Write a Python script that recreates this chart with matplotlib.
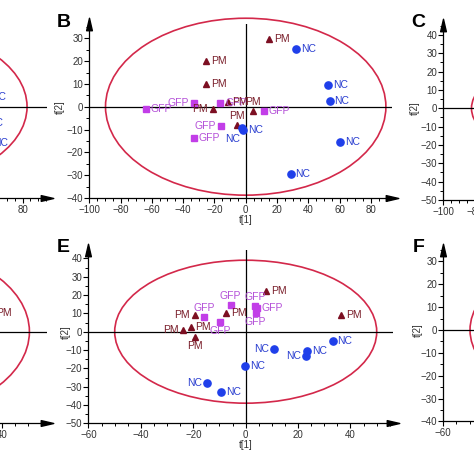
import numpy as np
import matplotlib.pyplot as plt
from matplotlib.patches import Ellipse
from matplotlib.path import Path

plt.rcParams['font.family'] = ['Liberation Sans', 'DejaVu Sans']

# scores (t[1], t[2]); A, C, D, F are only partly visible
a_nc_x = [56.7, 54.5, 58.3]
a_nc_y = [4.4, -7.3, -16.0]

b_nc_x = [32.2, 52.9, 53.7, 60.3, 28.8, -1.5, -2.6]
b_nc_y = [25.4, 9.4, 2.5, -15.5, -29.5, -10.2, -9.5]
b_pm_x = [14.9, -25.4, -25.4, -20.9, -11.5, 4.9, -5.8]
b_pm_y = [29.7, 20.2, 10.1, -1.0, 2.2, -1.9, -8.0]
b_gfp_x = [-64.0, -32.9, -16.2, 11.5, -15.8, -33.3]
b_gfp_y = [-0.9, 1.5, 1.6, -2.0, -8.3, -13.7]

d_pm_x = [35.9]
d_pm_y = [10.4]

e_nc_x = [33.2, 10.9, 23.4, 23.0, -0.3, -14.6, -9.5]
e_nc_y = [-5.3, -9.6, -10.5, -13.4, -18.7, -28.2, -32.7]
e_pm_x = [7.8, 36.4, -19.4, -7.4, -23.8, -21.0, -19.3]
e_pm_y = [22.2, 8.9, 9.3, 10.4, 0.9, 2.4, -2.7]
e_gfp_x = [-5.8, -16.0, -9.9, 3.5, 4.3, 3.8]
e_gfp_y = [14.6, 8.2, 5.5, 14.2, 13.1, 10.2]

# where each point label sits
a_nc_lab = ['r', 'r', 'r']
b_nc_lab = ['r', 'r', 'r', 'r', 'r', 'r', 'bl']
b_pm_lab = ['r', 'r', 'r', 'l', 'r', 'a', 'a']
b_gfp_lab = ['r', 'l', 'r', 'r', 'l', 'r']
d_pm_lab = ['r']
e_nc_lab = ['r', 'l', 'r', 'l', 'r', 'l', 'r']
e_pm_lab = ['r', 'r', 'l', 'r', 'l', 'r', 'b']
e_gfp_lab = ['a', 'a', 'b', 'a', 'r', 'b']

W, H = 474, 474
fig = plt.figure(figsize=(W / 100, H / 100), dpi=100)

NC_COL = '#1f3fea'
NC_TXT = '#2b3fd0'
PM_COL = '#7c0f22'
PM_TXT = '#7a1f2b'
GFP_COL = '#c23ee8'
GFP_TXT = '#b450d8'
ELL_COL = '#d3284a'

OFF = {'r': ((3.5, 0), 'left', 'center'),
       'l': ((-3.5, 0), 'right', 'center'),
       'a': ((0, 3), 'center', 'bottom'),
       'b': ((0, -3), 'center', 'top'),
       'bl': ((-1, -4), 'right', 'top')}

codes = [Path.MOVETO, Path.LINETO, Path.LINETO, Path.CLOSEPOLY]
ARROW_R = Path([(-1, -0.46), (1, 0), (-1, 0.46), (-1, -0.46)], codes)
ARROW_U = Path([(-0.46, -1), (0, 1), (0.46, -1), (-0.46, -1)], codes)


def panel(x0, sx, xlim, y0, sy, ylim, xt, yt, ell, groups, letter=None, ylab_dx=29):
    # x0, y0: pixel of the data origin (y from top), sx, sy: pixels per unit
    left = x0 + sx * xlim[0]
    right = x0 + sx * xlim[1]
    top = y0 - sy * ylim[1]
    bottom = y0 - sy * ylim[0]
    ax = fig.add_axes([left / W, 1 - bottom / H, (right - left) / W, (bottom - top) / H])
    ax.patch.set_alpha(0)
    ax.set_xlim(xlim)
    ax.set_ylim(ylim)
    for s in ['top', 'right']:
        ax.spines[s].set_visible(False)
    for s in ['left', 'bottom']:
        ax.spines[s].set_linewidth(0.9)
    ax.set_xticks(xt)
    ax.set_yticks(yt)
    ax.set_xticks(np.arange(xlim[0], xlim[1], 5), minor=True)
    ax.set_yticks(np.arange(ylim[0], ylim[1], 5), minor=True)
    ax.tick_params(which='major', direction='out', length=3.5, width=0.8,
                   labelsize=7, labelcolor='#333333')
    ax.tick_params(which='minor', direction='out', length=2, width=0.7)
    ax.tick_params(axis='x', pad=1.5)
    ax.tick_params(axis='y', pad=1)
    ax.plot([1], [0], marker=ARROW_R, ms=9, color='k', transform=ax.transAxes, clip_on=False)
    ax.plot([0], [1], marker=ARROW_U, ms=9, color='k', transform=ax.transAxes, clip_on=False)
    ax.axhline(0, color='k', lw=0.9)
    ax.axvline(0, color='k', lw=0.9)
    ax.add_patch(Ellipse((0, 0), 2 * ell[0], 2 * ell[1], fill=False,
                         ec=ELL_COL, lw=1.2, clip_on=False))
    for xs, ys, labs, mk, ms, col, name, tcol in groups:
        ax.plot(xs, ys, ls='none', marker=mk, ms=ms, color=col, mec=col, clip_on=False)
        for x, y, p in zip(xs, ys, labs):
            off, ha, va = OFF[p]
            ax.annotate(name, (x, y), xytext=off, textcoords='offset points',
                        ha=ha, va=va, fontsize=7.5, color=tcol, annotation_clip=False)
    fig.text(x0 / W, 1 - (bottom + 22) / H, 't[1]', ha='center', va='center',
             fontsize=7, color='#333333')
    fig.text((left - ylab_dx) / W, 1 - y0 / H, 't[2]', ha='center', va='center',
             rotation=90, fontsize=7, color='#333333')
    if letter:
        fig.text((left - 25) / W, 1 - (top - 2) / H, letter, ha='center', va='center',
                 fontsize=14, fontweight='bold')
    return ax


xt1 = np.arange(-100, 81, 20)
xt2 = np.arange(-60, 41, 20)

panel(-102.5, 1.5646, (-100, 95.4), 106.7, 2.28, (-40, 36.1), xt1, np.arange(-40, 31, 10),
      (82.8, 34.3), [(a_nc_x, a_nc_y, a_nc_lab, 'o', 5.2, NC_COL, 'NC', NC_TXT)], 'A')

panel(245.7, 1.5646, (-100, 93.5), 106.7, 2.28, (-40, 36.1), xt1, np.arange(-40, 31, 10),
      (89.6, 38.8),
      [(b_gfp_x, b_gfp_y, b_gfp_lab, 's', 4.4, GFP_COL, 'GFP', GFP_TXT),
       (b_pm_x, b_pm_y, b_pm_lab, '^', 4.0, PM_COL, 'PM', PM_TXT),
       (b_nc_x, b_nc_y, b_nc_lab, 'o', 5.2, NC_COL, 'NC', NC_TXT)], 'B')

panel(599.8, 1.5646, (-100, 93.5), 108.3, 1.833, (-50, 45.6), xt1, np.arange(-50, 41, 10),
      (82, 30), [], 'C', ylab_dx=28)

panel(-102.9, 2.62, (-60, 57.1), 331.7, 1.833, (-50, 44.7), xt2, np.arange(-50, 41, 10),
      (50.5, 46), [(d_pm_x, d_pm_y, d_pm_lab, '^', 4.0, PM_COL, 'PM', PM_TXT)], 'D', ylab_dx=23)

panel(245.7, 2.62, (-60, 56.4), 331.7, 1.833, (-50, 44.7), xt2, np.arange(-50, 41, 10),
      (50, 39),
      [(e_gfp_x, e_gfp_y, e_gfp_lab, 's', 4.4, GFP_COL, 'GFP', GFP_TXT),
       (e_pm_x, e_pm_y, e_pm_lab, '^', 4.0, PM_COL, 'PM', PM_TXT),
       (e_nc_x, e_nc_y, e_nc_lab, 'o', 5.2, NC_COL, 'NC', NC_TXT)], 'E', ylab_dx=23)

panel(600.5, 2.62, (-60, 56.4), 330, 2.286, (-40, 35.1), xt2, np.arange(-40, 31, 10),
      (49.8, 33), [], 'F', ylab_dx=25)

fig.savefig('out.png', dpi=100)
